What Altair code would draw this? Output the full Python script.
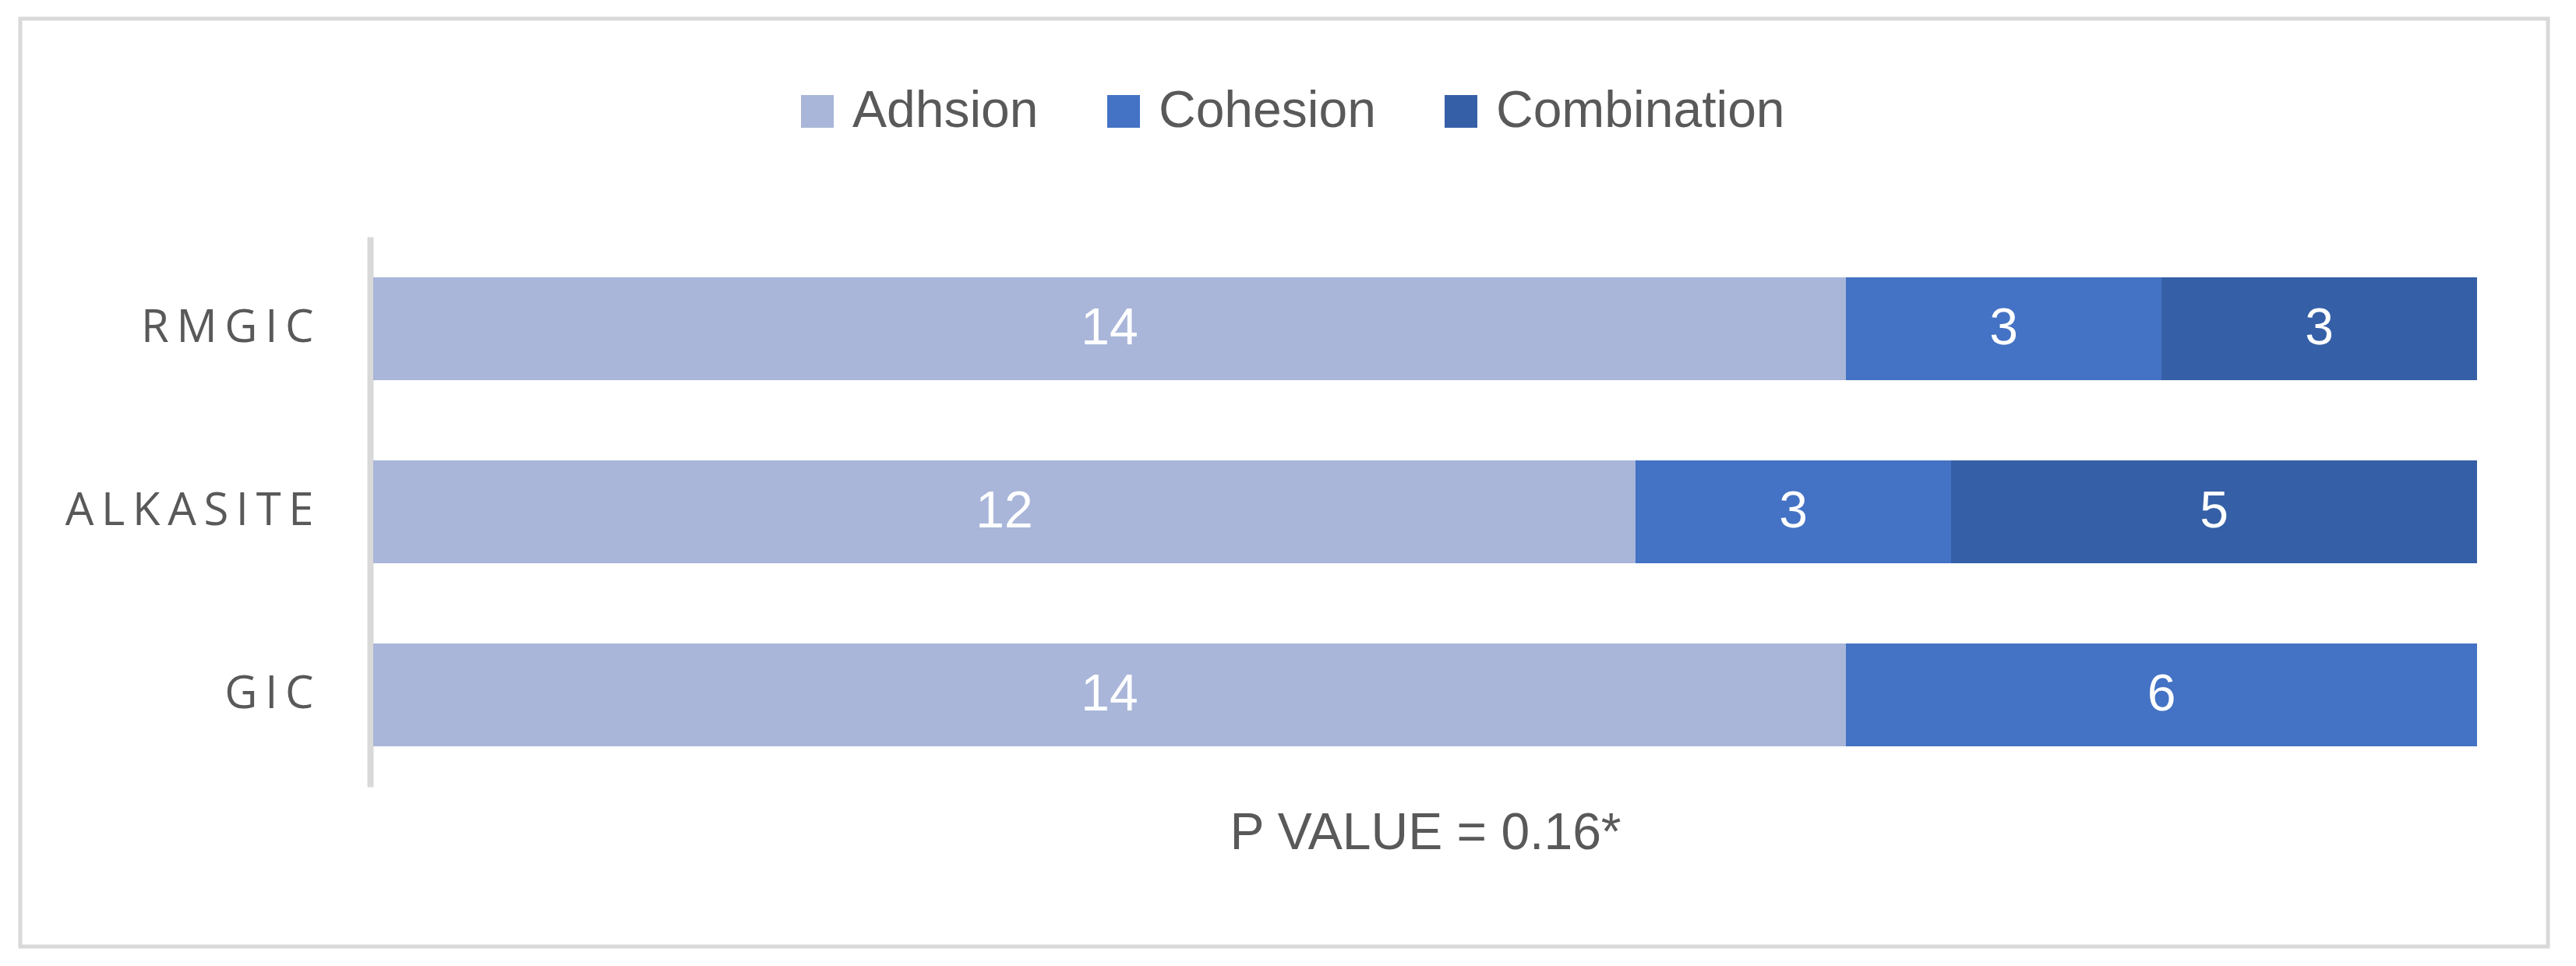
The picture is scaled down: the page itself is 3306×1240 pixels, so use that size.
import altair as alt
import pandas as pd

categories = ["RMGIC", "ALKASITE", "GIC"]
types = ["Adhsion", "Cohesion", "Combination"]
adhsion = [14, 12, 14]
cohesion = [3, 3, 6]
combination = [3, 5, 0]
colors = ["#A9B6D9", "#4472C4", "#355FA7"]
x_title = "P VALUE = 0.16*"

rows = []
for i, c in enumerate(categories):
    for j, (t, vals) in enumerate(zip(types, [adhsion, cohesion, combination])):
        rows.append({"category": c, "type": t, "value": vals[i], "order": j})
df = pd.DataFrame(rows)

FONT = "Liberation Sans, Arial, sans-serif"
GREY = "#595959"

base = alt.Chart(df).transform_filter("datum.value > 0").transform_stack(
    stack="value", groupby=["category"], as_=["v0", "v1"],
    sort=[alt.SortField("order", order="ascending")]
).transform_calculate(mid="(datum.v0 + datum.v1) / 2")

yenc = alt.Y("category:N", sort=categories, title=None,
             scale=alt.Scale(paddingInner=0.438, paddingOuter=0.221),
             axis=alt.Axis(domainColor="#D9D9D9", domainWidth=8, offset=4,
                           ticks=False, labelPadding=73, labelFont="Open Sans",
                           labelFontSize=58, labelColor=GREY, labelLimit=0,
                           labelExpr="join(split(datum.label, ''), '\u2009')"))

xscale = alt.Scale(domain=[0, 20], nice=False, zero=True)

bars = base.mark_bar().encode(
    x=alt.X("v0:Q", scale=xscale, title=x_title,
            axis=alt.Axis(labels=False, ticks=False, domain=False, grid=False,
                          titleFont=FONT, titleFontSize=66, titleColor=GREY,
                          titleFontWeight="normal", titlePadding=27)),
    x2="v1:Q",
    y=yenc,
    color=alt.Color("type:N", sort=types,
                    scale=alt.Scale(domain=types, range=colors),
                    legend=alt.Legend(title=None, orient="none", legendX=537, legendY=-194,
                                      direction="horizontal", symbolType="square",
                                      symbolSize=1764, symbolStrokeWidth=0,
                                      labelFont=FONT, labelFontSize=66, labelLimit=0,
                                      labelColor=GREY, labelOffset=12,
                                      columnPadding=76)),
)

labels = base.mark_text(color="white", font=FONT, fontSize=66, baseline="middle").encode(
    x=alt.X("mid:Q", scale=xscale),
    y=alt.Y("category:N", sort=categories),
    text="value:Q",
)

frame = alt.Chart(pd.DataFrame({"a": [0]})).mark_rect(
    fill=None, stroke="#D9D9D9", strokeWidth=5
).encode(x=alt.value(-453), x2=alt.value(2791), y=alt.value(-280), y2=alt.value(911))

chart = alt.layer(frame, bars, labels).properties(
    width=2700, height=706,
    padding={"left": 471, "top": 296, "right": 119, "bottom": 222},
    autosize=alt.AutoSizeParams(type="none"),
    background="white",
).configure_view(stroke=None)

chart.save("out.html", embed_options={"renderer": "svg", "actions": False})
